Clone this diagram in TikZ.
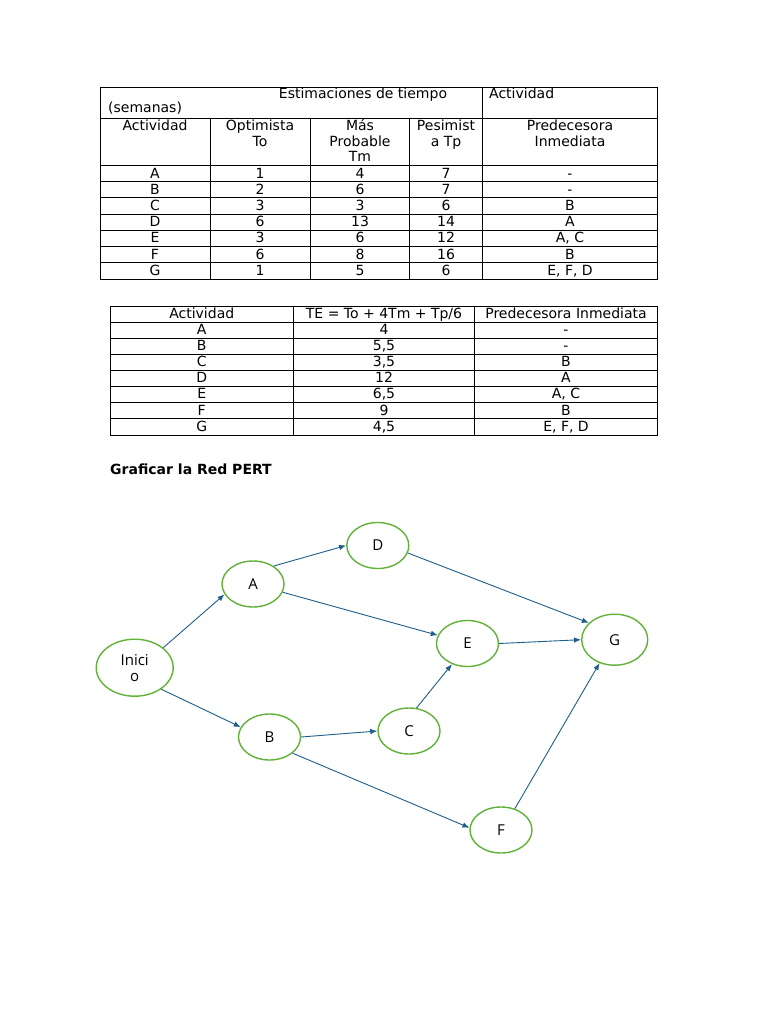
\documentclass[tikz,border=0pt]{standalone}
\usepackage{fontspec}
\setmainfont{DejaVu Sans}
\newfontfamily\nodefont{Open Sans}
\usetikzlibrary{shapes.geometric,arrows.meta}
\definecolor{nodegreen}{RGB}{98,178,58}
\definecolor{arrowblue}{RGB}{30,94,140}
\begin{document}
\begin{tikzpicture}[x=1pt,y=-1pt,
  tline/.style={line width=0.8pt,black},
  ttext/.style={inner sep=0pt,anchor=base,font=\fontsize{14}{15.5}\selectfont},
  ev/.style={ellipse,draw=nodegreen,line width=1.4pt,inner sep=0pt,minimum width=62pt,minimum height=46pt,font=\nodefont\fontsize{15}{16}\selectfont},
  arr/.style={draw=arrowblue,line width=0.9pt,-{Latex[length=7pt,width=5.5pt]}}]
\fill[white] (0,0) rectangle (768,1024);
\useasboundingbox (0,0) rectangle (768,1024);

% ---------- Table 1 ----------
\draw[tline] (100,87.5) rectangle (657.5,279);
\foreach \yy in {118.5,165.5,181.7,197.9,214.1,230.3,246.5,262.7}
  \draw[tline] (100,\yy) -- (657.5,\yy);
\draw[tline] (482.5,87.5) -- (482.5,279);
\foreach \xx in {210,310.5,409}
  \draw[tline] (\xx,118.5) -- (\xx,279);

\node[ttext] (h1) at (363,99) {Estimaciones de tiempo};
\node[ttext,anchor=base west] (h2) at (108,113) {(semanas)};
\node[ttext,anchor=base west] (h3) at (489,99) {Actividad};
\node[ttext] (h4) at (155,130.7) {Actividad};
\node[ttext] (h5a) at (260,130.7) {Optimista};
\node[ttext] (h5b) at (260,146.2) {To};
\node[ttext] (h6a) at (360,130.7) {Más};
\node[ttext] (h6b) at (360,146.2) {Probable};
\node[ttext] (h6c) at (360,161.7) {Tm};
\node[ttext] (h7a) at (446,130.7) {Pesimist};
\node[ttext] (h7b) at (446,146.2) {a Tp};
\node[ttext] (h8a) at (570,130.7) {Predecesora};
\node[ttext] (h8b) at (570,146.2) {Inmediata};

\foreach \a/\b/\c/\d/\e [count=\i from 0] in
  {A/1/4/7/-, B/2/6/7/-, C/3/3/6/B, D/6/13/14/A, E/3/6/12/{A, C}, F/6/8/16/B, G/1/5/6/{E, F, D}}{
  \pgfmathsetmacro{\by}{165.5+16.2*\i+12.6}
  \node[ttext] (ta\i) at (155,\by) {\a};
  \node[ttext] (tb\i) at (260,\by) {\b};
  \node[ttext] (tc\i) at (360,\by) {\c};
  \node[ttext] (td\i) at (446,\by) {\d};
  \node[ttext] (te\i) at (570,\by) {\e};
}

% ---------- Table 2 ----------
\draw[tline] (110,306) rectangle (657.5,435);
\foreach \k in {1,...,7}
  \draw[tline] (110,306+16.125*\k) -- (657.5,306+16.125*\k);
\foreach \xx in {293.5,474.5}
  \draw[tline] (\xx,306) -- (\xx,435);
\node[ttext] (s1) at (201.75,318.3) {Actividad};
\node[ttext] (s2) at (384,318.3) {TE = To + 4Tm + Tp/6};
\node[ttext] (s3) at (566,318.3) {Predecesora Inmediata};
\foreach \a/\b/\e [count=\i from 1] in
  {A/4/-, B/{5,5}/-, C/{3,5}/B, D/12/A, E/{6,5}/{A, C}, F/9/B, G/{4,5}/{E, F, D}}{
  \pgfmathsetmacro{\by}{306+16.125*\i+12.3}
  \node[ttext] (ua\i) at (201.75,\by) {\a};
  \node[ttext] (ub\i) at (384,\by) {\b};
  \node[ttext] (ue\i) at (566,\by) {\e};
}

% ---------- Title ----------
\node[inner sep=0pt,anchor=base west,font=\bfseries\fontsize{14}{16}\selectfont] (title) at (110,474) {Graficar la Red PERT};

% ---------- PERT network ----------
\node[ev,minimum width=77pt,minimum height=57pt,align=center] (ini) at (134.7,667.7) {Inici\\o};
\node[ev] (A) at (253,584) {A};
\node[ev] (D) at (377.8,545.5) {D};
\node[ev] (E) at (467.5,643.5) {E};
\node[ev,minimum width=66pt,minimum height=51pt] (G) at (614.7,639.7) {G};
\node[ev] (B) at (269.5,737) {B};
\node[ev] (C) at (409,731) {C};
\node[ev] (F) at (501,830) {F};

\draw[arr] (ini.35) -- (A.200);
\draw[arr] (ini.-39) -- (B.161);
\draw[arr] (A.41) -- (D.west);
\draw[arr] (A) -- (E);
\draw[arr] (D.-14) -- (G.147);
\draw[arr] (E.east) -- (G.west);
\draw[arr] (B.east) -- (C.west);
\draw[arr] (C.72) -- (E.233);
\draw[arr] (B.-35) -- (F.176);
\draw[arr] (F.57) -- (G.237);
\end{tikzpicture}
\end{document}
